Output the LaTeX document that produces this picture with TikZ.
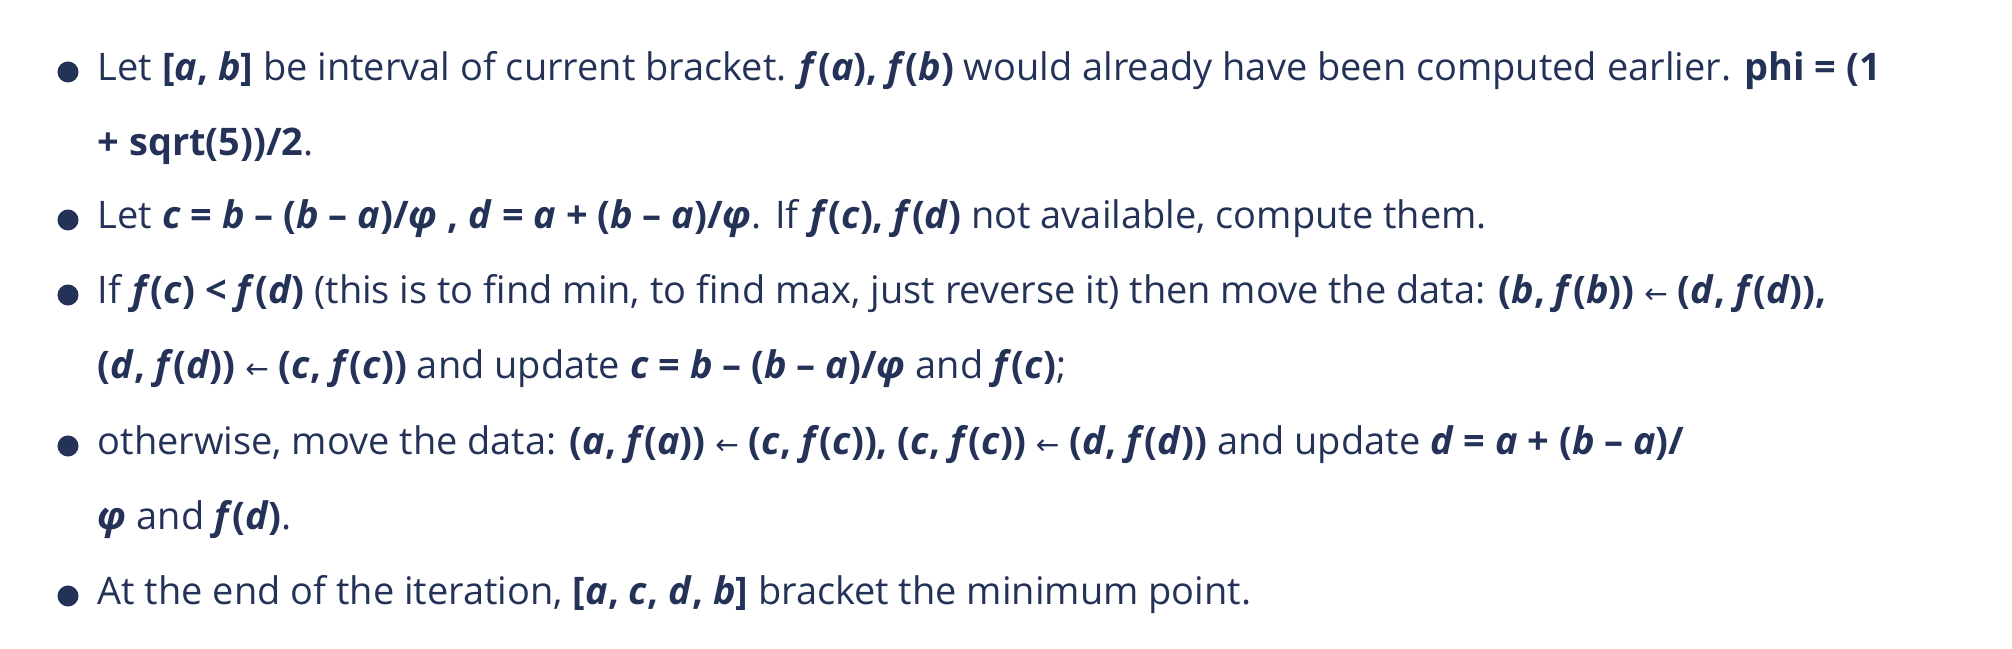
\documentclass[tikz,border=0pt]{standalone}
\usepackage{fontspec}
\setmainfont{Open Sans}
\newfontfamily\arr{DejaVu Sans}
\definecolor{txt}{RGB}{36,50,88}
\newcommand{\bi}[1]{\textbf{\textit{#1}}}
\newcommand{\bb}[1]{\textbf{#1}}
\newcommand{\la}{{\arr\footnotesize ←}}
\begin{document}
\begin{tikzpicture}[x=0.01cm,y=-0.01cm,
  ln/.style={anchor=west,inner sep=0pt,text=txt,font=\fontsize{10.8pt}{12pt}\selectfont},
  dot/.style={circle,fill=txt,inner sep=0pt,minimum size=2.1mm}]
\useasboundingbox (0,0) rectangle (2012,649);
\node[dot] (b1) at (68,72) {};
\node[ln] (l1) at (97,71) {Let \bb{[}\bi{a}\bb{, }\bi{b}\bb{]} be interval of current bracket. \bi{f}\bb{(}\bi{a}\bb{), }\bi{f}\bb{(}\bi{b}\bb{)} would already have been computed earlier. \bb{phi = (1}};
\node[ln] (l2) at (97,146) {\bb{+ sqrt(5))/2}.};
\node[dot] (b3) at (68,220) {};
\node[ln] (l3) at (97,219) {Let \bi{c} \bb{=} \bi{b} \bb{– (}\bi{b} \bb{–} \bi{a}\bb{)/}\bi{φ} \bb{,} \bi{d} \bb{=} \bi{a} \bb{+ (}\bi{b} \bb{–} \bi{a}\bb{)/}\bi{φ}. If \bi{f}\bb{(}\bi{c}\bb{), }\bi{f}\bb{(}\bi{d}\bb{)} not available, compute them.};
\node[dot] (b4) at (68,295) {};
\node[ln] (l4) at (97,294) {If \bi{f}\bb{(}\bi{c}\bb{) < }\bi{f}\bb{(}\bi{d}\bb{)} (this is to find min, to find max, just reverse it) then move the data: \bb{(}\bi{b}\bb{, }\bi{f}\bb{(}\bi{b}\bb{))} \la{} \bb{(}\bi{d}\bb{, }\bi{f}\bb{(}\bi{d}\bb{)),}};
\node[ln] (l5) at (97,369) {\bb{(}\bi{d}\bb{, }\bi{f}\bb{(}\bi{d}\bb{))} \la{} \bb{(}\bi{c}\bb{, }\bi{f}\bb{(}\bi{c}\bb{))} and update \bi{c} \bb{=} \bi{b} \bb{– (}\bi{b} \bb{–} \bi{a}\bb{)/}\bi{φ} and \bi{f}\bb{(}\bi{c}\bb{)};};
\node[dot] (b6) at (68,446) {};
\node[ln] (l6) at (97,445) {otherwise, move the data: \bb{(}\bi{a}\bb{, }\bi{f}\bb{(}\bi{a}\bb{))} \la{} \bb{(}\bi{c}\bb{, }\bi{f}\bb{(}\bi{c}\bb{)), (}\bi{c}\bb{, }\bi{f}\bb{(}\bi{c}\bb{))} \la{} \bb{(}\bi{d}\bb{, }\bi{f}\bb{(}\bi{d}\bb{))} and update \bi{d} \bb{=} \bi{a} \bb{+ (}\bi{b} \bb{–} \bi{a}\bb{)/}};
\node[ln] (l7) at (97,520) {\bi{φ} and \bi{f}\bb{(}\bi{d}\bb{)}.};
\node[dot] (b8) at (68,596) {};
\node[ln] (l8) at (97,595) {At the end of the iteration, \bb{[}\bi{a}\bb{, }\bi{c}\bb{, }\bi{d}\bb{, }\bi{b}\bb{]} bracket the minimum point.};
\end{tikzpicture}
\end{document}
